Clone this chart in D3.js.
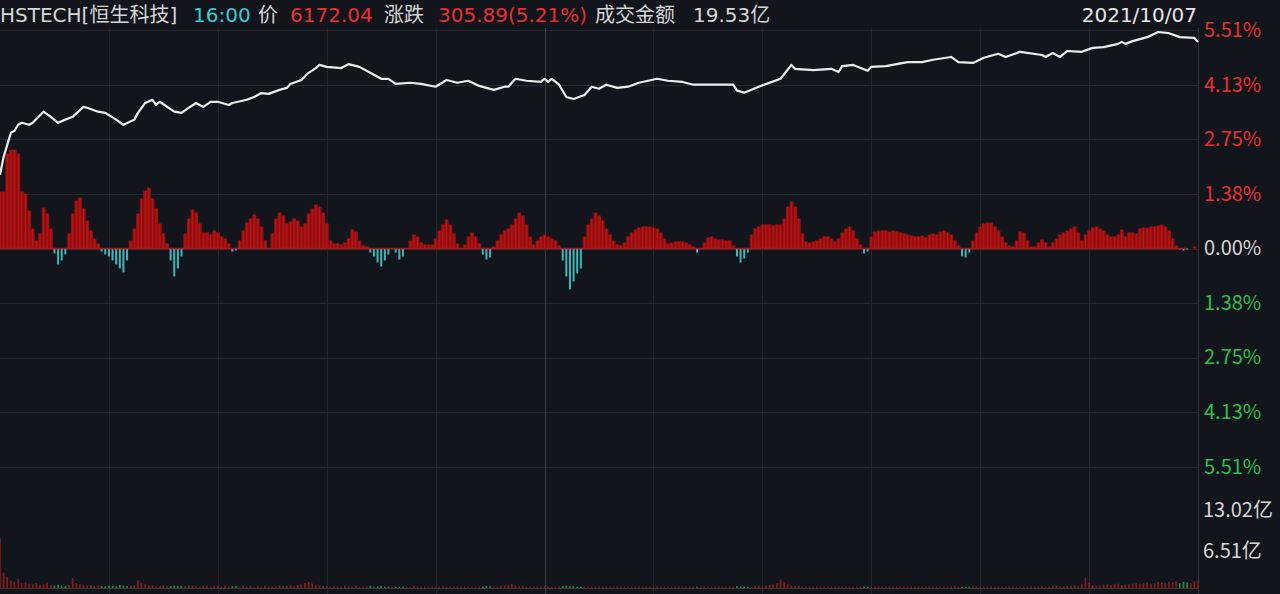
<!DOCTYPE html>
<html><head><meta charset="utf-8">
<script src="https://cdn.jsdelivr.net/npm/d3@7"></script>
<style>
html,body{margin:0;padding:0;background:#13151c;overflow:hidden;}
svg{display:block;font-family:"Noto Sans CJK SC","Noto Sans",sans-serif;}
</style></head>
<body><svg id="c" width="1280" height="594"></svg>
<script>
// ---- data ----
const headerTitle = "HSTECH[恒生科技]";
const headerTime = "16:00";
const headerPrice = "6172.04";
const headerChange = "305.89(5.21%)";
const headerTurnover = "19.53亿";
const headerDate = "2021/10/07";
const pctTicks = [5.51, 4.13, 2.75, 1.38, 0, -1.38, -2.75, -4.13, -5.51];
const volTicks = [13.02, 6.51];
const volMax = 19.53;
const totalMinutes = 330;               // 09:30-12:00, 13:00-16:00
const timeGridMinutes = [30,60,90,120,150,180,210,240,270,300];
const lunchMinute = 150;

// price line: minute index and % change
const lineMin = [0,1,3,4,5,6,8,9,12,14,16,18,20,23,24,27,29,32,34,37,38,40,42,43,44,48,50,52,54,56,58,60,63,64,68,70,72,74,77,79,80,83,85,87,88,90,94,96,99,102,105,107,109,113,116,120,123,126,129,132,136,139,140,142,145,149,150,151,152,154,156,158,161,163,165,167,170,173,176,181,184,188,191,202,203,205,209,215,218,219,224,229,231,232,235,239,240,244,250,254,257,262,264,268,271,275,277,281,287,288,290,292,294,298,301,304,308,309,310,312,316,319,322,325,329,330];
const linePct = [1.86,2.31,2.92,2.97,3.12,3.17,3.12,3.17,3.45,3.32,3.17,3.25,3.32,3.57,3.55,3.45,3.42,3.25,3.12,3.25,3.42,3.67,3.75,3.62,3.70,3.45,3.42,3.55,3.67,3.57,3.70,3.70,3.62,3.67,3.75,3.82,3.92,3.90,4.00,4.05,4.15,4.25,4.43,4.55,4.63,4.58,4.55,4.65,4.58,4.43,4.28,4.28,4.15,4.18,4.15,4.08,4.25,4.18,4.23,4.10,4.00,4.08,4.08,4.28,4.23,4.20,4.28,4.20,4.28,4.13,3.82,3.77,3.87,4.08,4.03,4.13,4.05,4.08,4.18,4.28,4.23,4.20,4.13,4.13,3.98,3.93,4.08,4.28,4.63,4.53,4.50,4.53,4.45,4.60,4.63,4.48,4.58,4.60,4.70,4.70,4.76,4.83,4.70,4.68,4.81,4.91,4.83,4.96,4.88,4.83,4.93,4.83,4.98,4.96,5.06,5.08,5.16,5.21,5.16,5.23,5.33,5.46,5.43,5.33,5.31,5.21];

// buy/sell strength histogram, one value per minute (+ red, - cyan)
const strength = [
57,57,95,99,99,95,57,55,38,20,
8,15,41,35,20,-5,-16,-12,-6,15,
35,48,51,40,28,18,10,5,-3,-6,
-8,-12,-16,-20,-24,-12,8,20,35,50,
58,61,50,40,25,15,5,-12,-28,-20,
-8,15,30,39,36,25,16,16,14,18,
16,12,10,5,-3,-2,8,18,26,30,
34,30,22,8,0,15,30,36,33,25,
27,30,28,22,25,35,40,44,42,36,
25,8,5,5,4,6,10,19,17,8,
3,2,-4,-8,-14,-18,-12,-6,0,-4,
-11,-8,0,8,14,12,6,4,4,4,
10,18,24,29,24,15,5,0,4,12,
16,12,5,-6,-11,-9,2,8,14,18,
20,24,30,36,33,24,12,4,8,12,
14,12,10,8,3,-12,-28,-41,-33,-25,
-20,12,24,30,36,33,28,20,14,8,
4,3,6,12,16,19,21,22,22,22,
21,20,16,10,5,6,7,7,7,6,
4,2,-4,0,6,11,12,10,9,9,
8,8,3,-8,-14,-10,-4,14,20,22,
24,24,24,23,24,24,30,42,47,42,
30,15,7,6,7,8,10,12,12,10,
7,10,16,20,22,18,10,4,-5,-3,
12,17,18,18,18,17,18,17,16,15,
14,13,12,12,13,11,14,15,14,17,
18,16,14,8,3,-8,-9,-4,8,16,
22,25,26,26,22,18,12,6,3,2,
8,17,16,8,2,2,6,9,6,2,
6,10,14,16,18,20,22,16,8,14,
18,21,22,20,18,14,12,12,14,19,
12,16,16,15,20,21,21,22,22,23,
24,22,18,10,3,-1,-2,-1,0,2,
0];
const strengthMax = 219;

// turnover per minute (亿)
const volume = [
8.0,2.5,1.8,1.2,1.0,1.5,0.8,0.9,0.7,0.6,
0.8,0.5,0.6,0.9,0.5,0.4,0.5,0.4,0.3,0.5,
1.6,0.8,0.6,0.5,0.4,0.5,0.3,0.4,0.3,0.3,
0.4,0.3,0.3,0.5,0.4,0.3,0.3,0.4,1.2,0.8,
0.6,0.5,0.4,0.3,0.3,0.4,0.3,0.3,0.4,0.3,
0.3,0.3,0.4,0.3,0.3,0.2,0.3,0.3,0.2,0.3,
0.3,0.2,0.3,0.2,0.3,0.3,0.2,0.3,0.2,0.3,
0.2,0.3,0.2,0.3,0.2,0.3,0.3,0.4,0.3,0.3,
0.4,0.3,0.5,0.6,0.8,1.0,0.7,0.5,0.4,0.3,
0.3,0.2,0.3,0.2,0.2,0.3,0.2,0.2,0.3,0.2,
0.2,0.2,0.3,0.2,0.2,0.3,0.2,0.2,0.2,0.2,
0.2,0.2,0.2,0.2,0.3,0.2,0.2,0.2,0.2,0.2,
0.2,0.2,0.3,0.2,0.2,0.2,0.2,0.2,0.2,0.2,
0.2,0.2,0.2,0.2,0.3,0.3,0.2,0.2,0.3,0.4,
0.5,0.6,0.4,0.3,0.3,0.2,0.2,0.2,0.2,0.2,
0.3,0.2,0.2,0.2,0.2,0.3,0.4,0.3,0.3,0.2,
0.2,0.2,0.2,0.2,0.2,0.2,0.2,0.2,0.2,0.2,
0.2,0.2,0.2,0.2,0.2,0.2,0.2,0.2,0.2,0.2,
0.2,0.2,0.2,0.2,0.2,0.2,0.2,0.2,0.2,0.2,
0.2,0.2,0.2,0.2,0.2,0.2,0.2,0.2,0.2,0.2,
0.2,0.2,0.2,0.3,0.2,0.2,0.2,0.2,0.3,0.3,
0.3,0.4,0.5,0.6,0.8,1.4,0.9,0.6,0.4,0.3,
0.3,0.2,0.2,0.2,0.2,0.2,0.2,0.2,0.2,0.2,
0.2,0.2,0.2,0.2,0.2,0.2,0.2,0.2,0.2,0.2,
0.2,0.2,0.2,0.2,0.2,0.2,0.2,0.2,0.2,0.2,
0.2,0.2,0.2,0.2,0.2,0.2,0.2,0.2,0.2,0.2,
0.2,0.2,0.2,0.3,0.2,0.2,0.2,0.2,0.2,0.2,
0.2,0.2,0.2,0.2,0.2,0.2,0.2,0.2,0.2,0.2,
0.2,0.2,0.2,0.2,0.2,0.2,0.2,0.3,0.2,0.2,
0.3,0.4,0.3,0.3,0.3,0.3,0.4,0.3,0.6,1.6,
0.8,0.5,0.4,0.4,0.5,0.6,0.5,0.6,0.7,0.5,
0.6,0.6,0.7,0.8,0.7,0.8,0.9,0.7,0.8,1.0,
0.9,0.8,1.0,0.9,1.1,0.8,1.0,0.9,0.8,1.1,
1.2];

// ---- drawing ----
const W = 1280, H = 594;
const plotLeft = 0, plotRight = 1198, plotTop = 30, plotBottom = 467;
const volTop = 467, volBottom = 588;
const svg = d3.select("#c");
const RED = "#e8302f", GREEN = "#2dbf4a", GREY = "#d6d6d6", CYAN = "#3ec8d8";
const HEAD_FONT = '"DejaVu Sans","Noto Sans CJK SC",sans-serif';

const x = d3.scaleLinear().domain([0, totalMinutes]).range([plotLeft, plotRight]);
const y = d3.scaleLinear().domain([-5.51, 5.51]).range([plotBottom, plotTop]);
const sY = d3.scaleLinear().domain([-strengthMax, strengthMax]).range([plotBottom, plotTop]);
const vY = d3.scaleLinear().domain([0, volMax]).range([volBottom, volTop]);

svg.append("rect").attr("width", W).attr("height", H).attr("fill", "#13151c");

// horizontal grid
const gGrid = svg.append("g").attr("transform", `translate(${plotLeft},0)`)
  .call(d3.axisLeft(y).tickValues(pctTicks).tickSize(-(plotRight - plotLeft)).tickFormat(""));
gGrid.select(".domain").remove();
gGrid.selectAll(".tick line").attr("stroke", "#242832").attr("stroke-width", 1)
  .attr("shape-rendering", "crispEdges");

// vertical grid
const gVGrid = svg.append("g").attr("transform", `translate(0,${H})`)
  .call(d3.axisTop(x).tickValues(timeGridMinutes).tickSize(H - plotTop + 2).tickFormat(""));
gVGrid.select(".domain").remove();
gVGrid.selectAll(".tick line")
  .attr("stroke", d => d === lunchMinute ? "#363b45" : "#22262f")
  .attr("shape-rendering", "crispEdges");

// right border
svg.append("line").attr("x1", x(totalMinutes) + 0.5).attr("x2", x(totalMinutes) + 0.5)
  .attr("y1", plotTop - 2).attr("y2", H).attr("stroke", "#2e333c");

// strength histogram
const step = x(1) - x(0);
const sData = strength.map((v, i) => ({ i, v }));
svg.append("g").selectAll("rect").data(sData.filter(d => d.v > 0)).join("rect")
  .attr("x", d => x(d.i) - step / 2).attr("width", step + 0.2)
  .attr("y", d => sY(d.v)).attr("height", d => sY(0) - sY(d.v))
  .attr("fill", "#9c0d0d");
svg.append("g").selectAll("line").data(sData.filter(d => d.v > 0)).join("line")
  .attr("x1", d => x(d.i)).attr("x2", d => x(d.i))
  .attr("y1", d => sY(d.v)).attr("y2", sY(0))
  .attr("stroke", "#c42020").attr("stroke-width", 0.7);
svg.append("g").selectAll("rect").data(sData.filter(d => d.v < 0)).join("rect")
  .attr("x", d => x(d.i) - 1).attr("width", 2)
  .attr("y", sY(0)).attr("height", d => sY(d.v) - sY(0))
  .attr("fill", "#3ab8ba");
svg.append("line").attr("x1", x(0)).attr("x2", x(totalMinutes) - 12)
  .attr("y1", sY(0)).attr("y2", sY(0)).attr("stroke", "#b01818").attr("stroke-width", 1.3);

// price line
const linePts = lineMin.map((m, i) => [m, linePct[i]]);
svg.append("path").datum(linePts)
  .attr("fill", "none").attr("stroke", "#ececec").attr("stroke-width", 2.2)
  .attr("stroke-linejoin", "round")
  .attr("d", d3.line().x(d => x(d[0])).y(d => y(d[1])));

// volume bars
svg.append("g").selectAll("rect").data(volume.map((v, i) => ({ i, v }))).join("rect")
  .attr("x", d => x(d.i) - 0.8).attr("width", 1.6)
  .attr("y", d => vY(d.v)).attr("height", d => vY(0) - vY(d.v))
  .attr("fill", d => strength[d.i] < 0 ? "#2a8a4a" : "#8c1c1c");
svg.append("line").attr("x1", 0).attr("x2", plotRight).attr("y1", vY(0) + 0.5).attr("y2", vY(0) + 0.5)
  .attr("stroke", "#3a3a26").attr("stroke-width", 1);

// right percent axis
const gAxis = svg.append("g").attr("transform", `translate(${plotRight},0)`)
  .call(d3.axisRight(y).tickValues(pctTicks).tickSize(0).tickPadding(6)
    .tickFormat(d => Math.abs(d).toFixed(2) + "%"));
gAxis.select(".domain").remove();
gAxis.selectAll("text").attr("font-size", 20)
  .attr("font-family", '"Noto Sans CJK SC","Noto Sans",sans-serif')
  .attr("fill", d => d > 0 ? RED : (d < 0 ? GREEN : GREY));

// volume axis
const gVAxis = svg.append("g").attr("transform", `translate(${plotRight},3)`)
  .call(d3.axisRight(vY).tickValues(volTicks).tickSize(0).tickPadding(5)
    .tickFormat(d => d.toFixed(2) + "亿"));
gVAxis.select(".domain").remove();
gVAxis.selectAll("text").attr("font-size", 20)
  .attr("font-family", '"Noto Sans CJK SC","Noto Sans",sans-serif').attr("fill", GREY);

// header
const head = [
  { t: headerTitle, x: 0, c: GREY },
  { t: headerTime, x: 193, c: CYAN },
  { t: "价", x: 258, c: GREY },
  { t: headerPrice, x: 290, c: RED },
  { t: "涨跌", x: 384, c: GREY },
  { t: headerChange, x: 438, c: RED },
  { t: "成交金额", x: 595, c: GREY },
  { t: headerTurnover, x: 693, c: GREY }
];
svg.append("g").selectAll("text").data(head).join("text")
  .attr("x", d => d.x).attr("y", 22).attr("font-size", 20)
  .attr("font-family", HEAD_FONT).attr("fill", d => d.c)
  .text(d => d.t);
svg.append("text").attr("x", 1197).attr("y", 22).attr("text-anchor", "end")
  .attr("font-size", 20).attr("font-family", HEAD_FONT)
  .attr("fill", "#e6e6e6").text(headerDate);
</script></body></html>
